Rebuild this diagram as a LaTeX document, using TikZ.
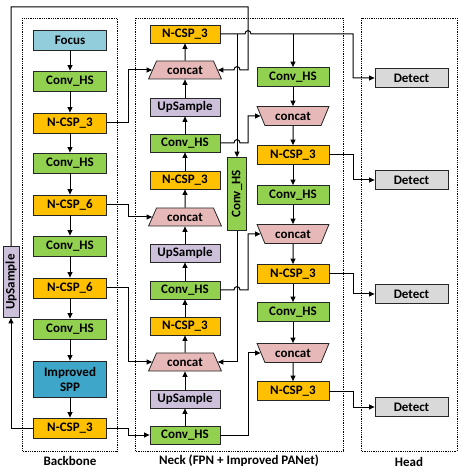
\documentclass[tikz,border=0pt]{standalone}
\usepackage{fontspec}
\setmainfont{Carlito}
\usepackage{graphicx}
\usetikzlibrary{positioning, arrows.meta, shapes.geometric}
\definecolor{focusfill}{RGB}{146, 205, 220}
\definecolor{sppfill}{RGB}{62, 166, 200}
\definecolor{hsfill}{RGB}{146, 208, 80}
\definecolor{cspfill}{RGB}{255, 192, 0}
\definecolor{upfill}{RGB}{204, 192, 218}
\definecolor{catfill}{RGB}{230, 185, 184}
\definecolor{detfill}{RGB}{217, 217, 217}

% line hops over a vertical wire (going right / going left)
\newcommand{\hopr}[2]{-- ({#1-3},#2) .. controls ({#1-3},{#2-4.5}) and ({#1+3},{#2-4.5}) .. ({#1+3},#2)}
\newcommand{\hopl}[2]{-- ({#1+3},#2) .. controls ({#1+3},{#2-4.5}) and ({#1-3},{#2-4.5}) .. ({#1-3},#2)}

\begin{document}
\begin{tikzpicture}[
    x=1pt, y=-1pt,
    >={Triangle[length=5.5pt, width=5pt]},
    every node/.style={font=\fontsize{13}{15}\selectfont\bfseries},
    box/.style={
        draw=black!85,
        line width=0.8pt,
        fill=#1fill,
        minimum width=73pt,
        minimum height=20pt,
        inner sep=1pt,
    },
    nbox/.style={box=#1, minimum width=70pt, minimum height=18pt},
    pbox/.style={box=#1, minimum width=72pt, minimum height=19pt},
    fpncat/.style={
        draw=black!85,
        line width=0.8pt,
        fill=catfill,
        trapezium,
        trapezium left angle=63,
        trapezium right angle=63,
        trapezium stretches=true,
        minimum width=73pt,
        minimum height=18pt,
        inner sep=1pt,
    },
    pancat/.style={fpncat, trapezium left angle=117, trapezium right angle=117, minimum width=72pt, minimum height=19pt},
    group/.style={densely dotted, line width=0.8pt},
    wire/.style={line width=1pt},
    arr/.style={->, line width=1pt},
]
\useasboundingbox (0,0) rectangle (474,470);

% -- column x positions
\def\bbx{70}
\def\nkx{185}
\def\pnx{293}
\def\hdx{411.5}

% -- dotted groups
\draw[group] (22,18) rectangle (117,451);
\draw[group] (135,18) rectangle (343,451);
\draw[group] (361,18) rectangle (457,451);
\node at (70,461) {Backbone};
\node at (239,461) {Neck (FPN + Improved PANet)};
\node at (409,462) {Head};

% -- Backbone
\node[box=focus] (focus) at (\bbx,40) {Focus};
\node[box=hs] (bconv1) at (\bbx,81) {Conv\_HS};
\node[box=csp] (bcsp1) at (\bbx,123) {N-CSP\_3};
\node[box=hs] (bconv2) at (\bbx,163) {Conv\_HS};
\node[box=csp] (bcsp2) at (\bbx,205) {N-CSP\_6};
\node[box=hs] (bconv3) at (\bbx,246) {Conv\_HS};
\node[box=csp] (bcsp3) at (\bbx,288) {N-CSP\_6};
\node[box=hs] (bconv4) at (\bbx,329) {Conv\_HS};
\node[box=spp, minimum height=36pt, align=center] (spp) at (\bbx,379) {Improved\\SPP};
\node[box=csp] (bcsp4) at (\bbx,428) {N-CSP\_3};

% -- UpSample on the far left
\node[box=up, minimum width=16pt, minimum height=71pt] (upl) at (11,282) {\rotatebox{90}{UpSample}};

% -- Neck, FPN part
\node[nbox=csp] (ncsp1) at (\nkx,34) {N-CSP\_3};
\node[fpncat] (ncat1) at (\nkx,70) {concat};
\node[nbox=up] (nup1) at (\nkx,107) {UpSample};
\node[nbox=hs] (nconv1) at (\nkx,143) {Conv\_HS};
\node[nbox=csp] (ncsp2) at (\nkx,180) {N-CSP\_3};
\node[fpncat] (ncat2) at (\nkx,217) {concat};
\node[nbox=up] (nup2) at (\nkx,253) {UpSample};
\node[nbox=hs] (nconv2) at (\nkx,290) {Conv\_HS};
\node[nbox=csp] (ncsp3) at (\nkx,326) {N-CSP\_3};
\node[fpncat] (ncat3) at (\nkx,362) {concat};
\node[nbox=up] (nup3) at (\nkx,399) {UpSample};
\node[nbox=hs] (nconv3) at (\nkx,435) {Conv\_HS};

% -- vertical Conv_HS
\node[box=hs, minimum width=19pt, minimum height=73pt] (vconv) at (237,194) {\rotatebox{90}{Conv\_HS}};

% -- Neck, PANet part
\node[pbox=hs] (pconv1) at (\pnx,77) {Conv\_HS};
\node[pancat] (pcat1) at (\pnx,116) {concat};
\node[pbox=csp] (pcsp1) at (\pnx,155) {N-CSP\_3};
\node[pbox=hs] (pconv2) at (\pnx,195) {Conv\_HS};
\node[pancat] (pcat2) at (\pnx,234) {concat};
\node[pbox=csp] (pcsp2) at (\pnx,274) {N-CSP\_3};
\node[pbox=hs] (pconv3) at (\pnx,312) {Conv\_HS};
\node[pancat] (pcat3) at (\pnx,353) {concat};
\node[pbox=csp] (pcsp3) at (\pnx,391) {N-CSP\_3};

% -- Head
\node[box=det, minimum height=19pt] (det1) at (\hdx,78) {Detect};
\node[box=det, minimum height=19pt] (det2) at (\hdx,180) {Detect};
\node[box=det, minimum height=19pt] (det3) at (\hdx,294) {Detect};
\node[box=det, minimum height=19pt] (det4) at (\hdx,407) {Detect};

% -- wire columns
\coordinate (gapx) at (128,0);
\coordinate (feedx) at (248,0);
\coordinate (detx) at (353,0);
\coordinate (topr) at (248,7);

% ===== Arrows =====

% backbone, top to bottom
\foreach \a/\b in {focus/bconv1, bconv1/bcsp1, bcsp1/bconv2, bconv2/bcsp2, bcsp2/bconv3, bconv3/bcsp3, bcsp3/bconv4, bconv4/spp, spp/bcsp4}
    \draw[arr] (\a) -- (\b);

% FPN, bottom to top
\foreach \a/\b in {nconv3/nup3, nup3/ncat3, ncat3/ncsp3, ncsp3/nconv2, nconv2/nup2, nup2/ncat2, ncat2/ncsp2, ncsp2/nconv1, nconv1/nup1, nup1/ncat1, ncat1/ncsp1}
    \draw[arr] (\a) -- (\b);

% PANet, top to bottom
\foreach \a/\b in {pconv1/pcat1, pcat1/pcsp1, pcsp1/pconv2, pconv2/pcat2, pcat2/pcsp2, pcsp2/pconv3, pconv3/pcat3, pcat3/pcsp3}
    \draw[arr] (\a) -- (\b);

% backbone -> neck
\draw[arr] (bcsp1.east) -- (bcsp1.east -| gapx) |- (ncat1.west);
\draw[arr] (bcsp2.east) -- (bcsp2.east -| gapx) |- (ncat2.west);
\draw[arr] (bcsp3.east) -- (bcsp3.east -| gapx) |- (ncat3.west);
\draw[arr] (bcsp4.east) -- (bcsp4.east -| gapx) |- (nconv3.west);

% backbone -> UpSample -> top concat
\draw[arr] (bcsp4.west) -| (upl.south);
\draw[arr] (upl.north) |- (topr) -- (topr |- ncat1.east) \hopl{237}{70} -- (ncat1.east);

% top N-CSP_3 -> Detect, with branches down
\draw[arr] (ncsp1.east) \hopr{248}{34} -- (ncsp1.east -| detx) |- (det1.west);
\draw[arr] (ncsp1.east -| vconv) -- (vconv.north);
\draw[arr] (ncsp1.east -| pconv1) -- (pconv1.north);

% vertical Conv_HS -> bottom concat
\draw[arr] (vconv.south) |- (ncat3.east);

% FPN -> PANet
\draw[arr] (nconv1.east) \hopr{237}{143} -- (nconv1.east -| feedx) |- (pcat1.west);
\draw[arr] (nconv2.east) \hopr{237}{290} -- (nconv2.east -| feedx) |- (pcat2.west);
\draw[arr] (nconv3.east) -- (nconv3.east -| feedx) |- (pcat3.west);

% PANet -> Detect
\draw[arr] (pcsp1.east) -- (pcsp1.east -| detx) |- (det2.west);
\draw[arr] (pcsp2.east) -- (pcsp2.east -| detx) |- (det3.west);
\draw[arr] (pcsp3.east) -- (pcsp3.east -| detx) |- (det4.west);

\end{tikzpicture}
\end{document}
